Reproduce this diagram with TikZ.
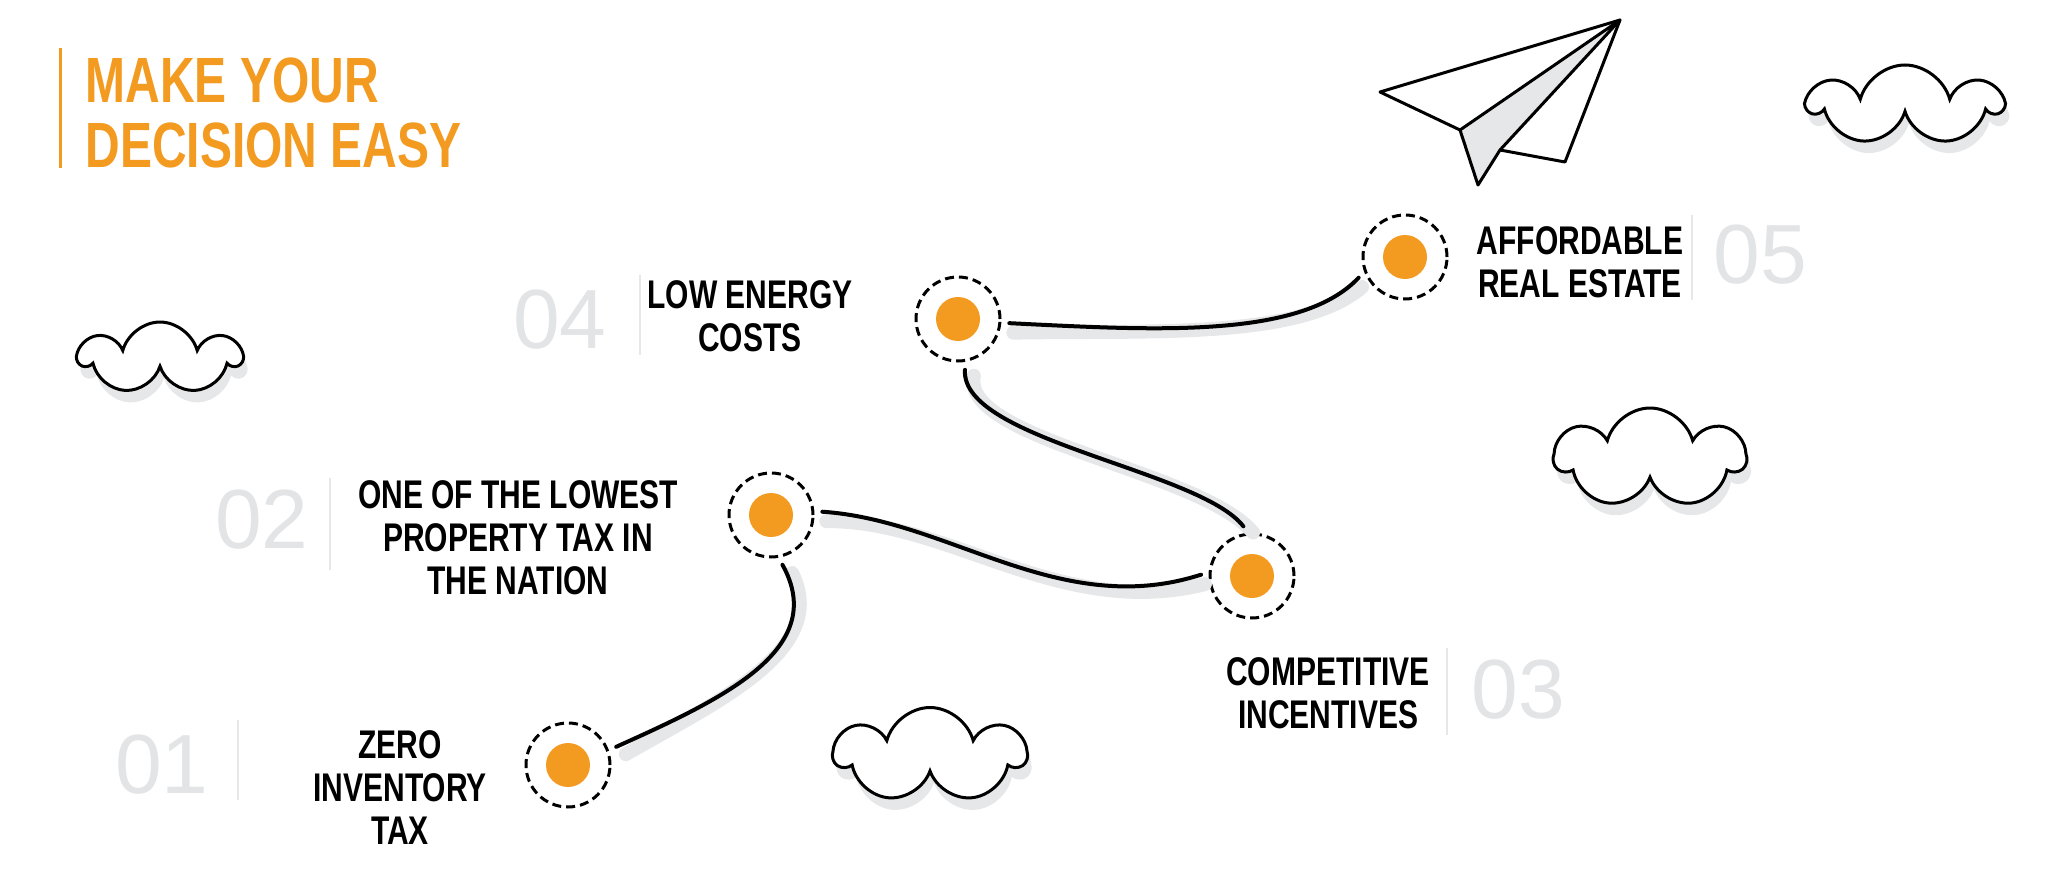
\documentclass[tikz,border=0pt]{standalone}
\usepackage{fontspec}
\setmainfont{Liberation Sans}
\newfontfamily\cond[FakeStretch=0.75]{Liberation Sans}
\usetikzlibrary{shapes.symbols}
\definecolor{org}{HTML}{F39A21}
\definecolor{shd}{HTML}{E6E7E8}
\definecolor{numc}{HTML}{E3E4E6}
\begin{document}
\begin{tikzpicture}[x=1pt,y=-1pt,
 dot/.style={circle,fill=org,minimum size=44pt,inner sep=0pt},
 ring/.style={circle,draw=black,line width=3pt,dash pattern=on 9pt off 5pt,minimum size=84pt,inner sep=0pt},
 lab/.style={font=\cond\bfseries\fontsize{40}{43}\selectfont,align=center,text=black},
 num/.style={font=\fontsize{84}{84}\selectfont,text=numc},
 sep/.style={draw=shd,line width=2.5pt},
 conn/.style={line width=4pt,line cap=round,shorten <=8pt,shorten >=8pt},
 cshad/.style={line width=14pt,shd,line cap=round,shorten <=8pt,shorten >=8pt},
 cl/.style={cloud,cloud puffs=7,aspect=2,draw=black,line width=3pt,fill=white,inner sep=0pt},
 clsh/.style={cloud,cloud puffs=7,aspect=2,fill=shd,inner sep=0pt}]
\useasboundingbox (0,0) rectangle (2048,883);
% title
\draw[org,line width=3pt] (60,48) -- (60,168);
\node[anchor=west,text=org,font=\cond\bfseries\fontsize{64}{64}\selectfont] (t1) at (82,80) {MAKE YOUR};
\node[anchor=west,text=org,font=\cond\bfseries\fontsize{64}{64}\selectfont] (t2) at (82,145) {DECISION EASY};
% points
\foreach \n/\x/\y in {1/568/765,2/771/515,3/1252/576,4/958/319,5/1405/257}{
 \node[dot] (d\n) at (\x,\y) {};
 \node[ring] (r\n) at (\x,\y) {};
}
% connector shadows
\draw[cshad] ([shift={(10,8)}]r1.20) .. controls (720,700) and (830,650) .. ([shift={(10,8)}]r2.-80);
\draw[cshad] ([shift={(4,10)}]r2.5) .. controls (950,520) and (1060,620) .. ([shift={(4,10)}]r3.175);
\draw[cshad] ([shift={(10,6)}]r3.95) .. controls (1200,470) and (960,440) .. ([shift={(10,6)}]r4.-80);
\draw[cshad] ([shift={(4,10)}]r4.-5) .. controls (1150,330) and (1300,340) .. ([shift={(4,10)}]r5.-160);
% connectors
\draw[conn] (r1.20) .. controls (720,700) and (830,650) .. (r2.-80);
\draw[conn] (r2.5) .. controls (950,520) and (1060,620) .. (r3.175);
\draw[conn] (r3.95) .. controls (1200,470) and (960,440) .. (r4.-80);
\draw[conn] (r4.-5) .. controls (1150,330) and (1300,340) .. (r5.-160);
% labels
\node[num] (n1) at (162,765) {01};
\draw[sep] (238,720) -- (238,800);
\node[lab] (l1) at (400,788) {ZERO\\INVENTORY\\TAX};
\node[num] (n2) at (262,520) {02};
\draw[sep] (330,478) -- (330,570);
\node[lab] (l2) at (518,538) {ONE OF THE LOWEST\\PROPERTY TAX IN\\THE NATION};
\node[num] (n3) at (1518,690) {03};
\draw[sep] (1447,648) -- (1447,735);
\node[lab] (l3) at (1328,693) {COMPETITIVE\\INCENTIVES};
\node[num] (n4) at (560,320) {04};
\draw[sep] (640,275) -- (640,355);
\node[lab] (l4) at (750,316) {LOW ENERGY\\COSTS};
\node[num] (n5) at (1760,255) {05};
\draw[sep] (1692,215) -- (1692,300);
\node[lab] (l5) at (1580,262) {AFFORDABLE\\REAL ESTATE};
% clouds
\foreach \x/\y/\w/\h in {160/358/160/72, 1905/105/190/80, 1650/458/190/100, 930/755/190/95}{
 \node[clsh,minimum width=\w pt,minimum height=\h pt] at (\x+4,\y+12) {};
 \node[cl,minimum width=\w pt,minimum height=\h pt] at (\x,\y) {};
}
% paper plane
\fill[shd] (1460,130) -- (1620,20) -- (1500,150) -- (1478,185) -- cycle;
\draw[line width=3pt,line join=round] (1380,92) -- (1620,20) -- (1565,162) -- (1500,150) -- (1478,185) -- (1460,130) -- cycle;
\draw[line width=3pt,line join=round] (1460,130) -- (1620,20) -- (1500,150);
\end{tikzpicture}
\end{document}
